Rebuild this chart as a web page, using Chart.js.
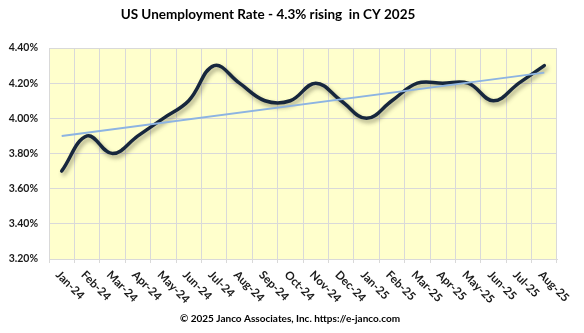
<!DOCTYPE html>
<html>
<head>
<meta charset="utf-8">
<script src="https://cdn.jsdelivr.net/npm/chart.js@4/dist/chart.umd.min.js"></script>
<style>
  html, body { margin: 0; padding: 0; background: #ffffff; }
  #wrap { width: 584px; height: 333px; position: relative; }
</style>
</head>
<body>
<div id="wrap"><canvas id="chart" width="584" height="333"></canvas></div>
<script>
// Monthly US unemployment rate (%)
const months = ['Jan-24','Feb-24','Mar-24','Apr-24','May-24','Jun-24','Jul-24','Aug-24','Sep-24','Oct-24',
                'Nov-24','Dec-24','Jan-25','Feb-25','Mar-25','Apr-25','May-25','Jun-25','Jul-25','Aug-25'];
const unemployment = [3.7, 3.9, 3.8, 3.9, 4.0, 4.1, 4.3, 4.2, 4.1, 4.1,
                      4.2, 4.1, 4.0, 4.1, 4.2, 4.2, 4.2, 4.1, 4.2, 4.3];
// Linear trend: value at the first and at the last month
const trendEnds = [3.90, 4.26];
const yTicks = [3.2, 3.4, 3.6, 3.8, 4.0, 4.2, 4.4];
const titleText = 'US Unemployment Rate - 4.3% rising  in CY 2025';
const footerText = '\u00A9 2025 Janco Associates, Inc. https://e-janco.com';

const FONT = "Lato, 'Open Sans', 'Liberation Sans', sans-serif";
const GRID = '#d9d9d9';

const trendData = months.map((_, i) =>
  i === 0 ? trendEnds[0] : (i === months.length - 1 ? trendEnds[1] : null));

const decor = {
  id: 'decor',
  beforeDraw(chart) {
    const { ctx, chartArea: a } = chart;
    ctx.save();
    ctx.fillStyle = '#ffffcc';
    ctx.fillRect(a.left, a.top, a.right - a.left, a.bottom - a.top);
    ctx.restore();
  },
  beforeDatasetDraw(chart, args) {
    if (args.index === 1) {
      const ctx = chart.ctx;
      ctx.save();
      ctx.shadowColor = 'rgba(60,60,40,0.45)';
      ctx.shadowBlur = 4;
      ctx.shadowOffsetX = 2;
      ctx.shadowOffsetY = 3;
    }
  },
  afterDatasetDraw(chart, args) {
    if (args.index === 1) chart.ctx.restore();
  },
  afterDraw(chart) {
    const { ctx } = chart;
    const xs = chart.scales.x;
    ctx.save();
    ctx.fillStyle = '#000000';
    ctx.textAlign = 'center';
    ctx.textBaseline = 'middle';
    ctx.font = 'bold 13.5px ' + FONT;
    ctx.fillText(titleText, 268, 15);
    ctx.font = 'bold 10px ' + FONT;
    ctx.fillText(footerText, 290, 319);

    // rotated month labels under each category
    ctx.fillStyle = '#1a1a1a';
    ctx.font = 'bold 11.5px ' + FONT;
    ctx.textAlign = 'left';
    months.forEach((m, i) => {
      const x = xs.getPixelForTick(i);
      ctx.save();
      ctx.translate(x - 4, xs.top + 14);
      ctx.rotate(Math.PI / 4);
      ctx.fillText(m, 0, 0);
      ctx.restore();
    });
    ctx.restore();
  }
};

new Chart(document.getElementById('chart'), {
  type: 'line',
  data: {
    labels: months,
    datasets: [
      {
        label: 'Trend',
        data: trendData,
        spanGaps: true,
        borderColor: '#8db4e2',
        borderWidth: 2,
        pointRadius: 0,
        tension: 0,
        order: 0
      },
      {
        label: 'Unemployment Rate',
        data: unemployment,
        borderColor: '#17273d',
        borderWidth: 3.5,
        pointRadius: 0,
        tension: 0.4,
        borderCapStyle: 'round',
        order: 1
      }
    ]
  },
  options: {
    responsive: false,
    devicePixelRatio: 1,
    animation: false,
    layout: { padding: { top: 48, right: 27, left: 0, bottom: 0 } },
    plugins: {
      legend: { display: false },
      title: { display: false },
      tooltip: { enabled: false }
    },
    scales: {
      x: {
        type: 'category',
        offset: true,
        grid: { offset: true, color: GRID, tickLength: 4, drawTicks: true },
        border: { color: GRID },
        ticks: { display: false },
        afterFit(s) { s.height = 74; }
      },
      y: {
        min: 3.2,
        max: 4.4,
        afterBuildTicks(s) { s.ticks = yTicks.map(v => ({ value: v })); },
        ticks: {
          callback: v => v.toFixed(2) + '%',
          color: '#1a1a1a',
          font: { family: FONT, size: 10.5, weight: 'bold' },
          padding: 11
        },
        grid: { color: GRID, drawTicks: false },
        border: { color: GRID },
        afterFit(s) { s.width = 49; }
      }
    }
  },
  plugins: [decor]
});
</script>
</body>
</html>
